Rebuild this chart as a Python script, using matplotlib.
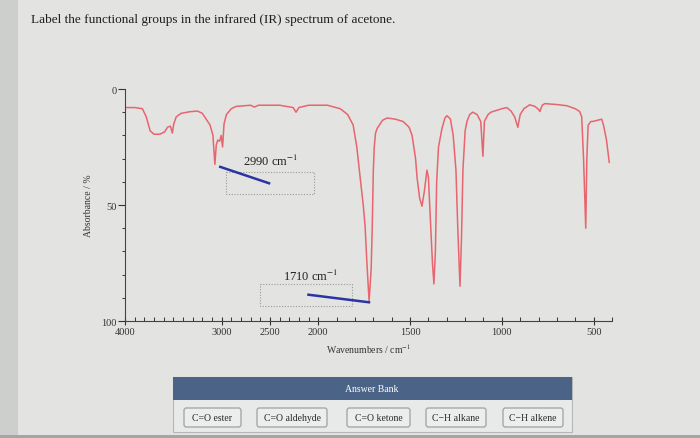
import numpy as np
import matplotlib
matplotlib.use("Agg")
import matplotlib.pyplot as plt
from matplotlib.patches import Rectangle, FancyBboxPatch

plt.rcParams["font.family"] = ["Liberation Serif", "DejaVu Serif"]
plt.rcParams["mathtext.fontset"] = "stix"

# IR spectrum of acetone (wavenumber cm-1, absorbance %)
wavenumber = [4000, 3900, 3820, 3780, 3740, 3700, 3640, 3590, 3560, 3530, 3510, 3495,
              3470, 3420, 3330, 3250, 3200, 3160, 3120, 3090, 3070, 3055, 3040, 3020,
              3005, 2990, 2975, 2950, 2900, 2850, 2700, 2660, 2620, 2400, 2260, 2230,
              2200, 2100, 1950, 1880, 1840, 1810, 1790, 1772, 1755, 1745, 1735, 1723,
              1712, 1706, 1700, 1695, 1688, 1679, 1650, 1625, 1580, 1538, 1505, 1489,
              1470, 1462, 1448, 1435, 1422, 1408, 1400, 1390, 1378, 1370, 1362, 1355,
              1345, 1326, 1310, 1299, 1280, 1265, 1250, 1240, 1228, 1220, 1212, 1200,
              1190, 1175, 1158, 1135, 1115, 1103, 1095, 1075, 1060, 1000, 973, 950,
              930, 913, 900, 880, 848, 820, 800, 793, 780, 766, 700, 647, 600, 576,
              565, 555, 543, 537, 530, 515, 505, 480, 456, 445, 430, 415]
absorbance = [8, 8, 8.5, 12, 18, 19.5, 19.5, 18.5, 16.5, 16, 19, 15,
              12, 10.5, 9.8, 9.5, 10.5, 13, 15.5, 20, 32.5, 24, 22, 22.5,
              20, 25, 15, 11, 8.5, 7.5, 7, 7.8, 7, 7, 8, 10,
              8, 7, 7, 8.5, 11, 15.5, 25, 38, 50, 59, 75, 91.5,
              78, 60, 35, 25, 19, 17, 13.5, 12.5, 13, 14, 16.5, 20,
              30, 38, 47, 50.5, 44, 35, 38, 55, 75, 84, 70, 40,
              25, 17, 12.5, 11.5, 13, 20, 35, 60, 85, 65, 35, 18,
              14, 11, 10, 11, 14, 29, 14, 11, 10, 8.5, 8, 9.5,
              12, 16.5, 11, 8.5, 6.8, 7.5, 8.8, 9.7, 7, 6.3, 6.7, 7.2, 8.5, 9.7,
              12, 30, 60, 30, 15.6, 14, 14, 13.5, 13, 16, 22, 31.6]

major_ticks = [4000, 3000, 2500, 2000, 1500, 1000, 500]
peak_labels = ["2990 cm$^{-1}$", "1710 cm$^{-1}$"]
answers = ["C=O ester", "C=O aldehyde", "C=O ketone", "C\u2212H alkane", "C\u2212H alkene"]

BG = "#e3e4e1"
RED = "#e8646e"
BLUE = "#2a34a3"


# axis is compressed above 2000 cm-1 (usual IR chart layout)
def fwd(w):
    w = np.asarray(w, dtype=float)
    return np.where(w >= 2000, w, 2000 - 1.9 * (2000 - w))


def inv(u):
    u = np.asarray(u, dtype=float)
    return np.where(u >= 2000, u, 2000 - (2000 - u) / 1.9)


fig = plt.figure(figsize=(7, 4.39), dpi=100)
fig.patch.set_facecolor(BG)

# background layer in pixel coords
bg = fig.add_axes([0, 0, 1, 1], zorder=0)
bg.set_xlim(0, 700)
bg.set_ylim(439, 0)
bg.axis("off")
bg.add_patch(Rectangle((0, 0), 18, 439, facecolor="#cdcfcc", edgecolor="none"))
bg.add_patch(Rectangle((0, 436), 700, 3, facecolor="#a4a6a4", edgecolor="none"))
bg.text(31, 20, "Label the functional groups in the infrared (IR) spectrum of acetone.",
        fontsize=9.5, color="#1e1e1e", va="center", ha="left")

# answer bank panel
bg.add_patch(Rectangle((173, 378), 399, 55, facecolor="#e8eae9", edgecolor="#b5b7b5", lw=0.8))
bg.add_patch(Rectangle((173, 378), 399, 23, facecolor="#4b6386", edgecolor="none"))
bg.text(372, 389.5, "Answer Bank", color="white", fontsize=7, ha="center", va="center")
btn_x = [184, 257, 347, 426, 503]
btn_w = [57, 70, 63, 60, 60]
for x0, w0, lab in zip(btn_x, btn_w, answers):
    bg.add_patch(FancyBboxPatch((x0, 409), w0, 19, boxstyle="round,pad=0,rounding_size=2.5",
                                facecolor="#eceeed", edgecolor="#a6a8a6", lw=1.0))
    bg.text(x0 + w0 / 2, 418.5, lab, fontsize=7, ha="center", va="center", color="#2a2a2a")

# spectrum axes
ax = fig.add_axes([125 / 700, 1 - 322 / 439, 487 / 700, 232 / 439], zorder=1)
ax.set_facecolor("none")
ax.set_xscale("function", functions=(fwd, inv))
ax.plot(wavenumber, absorbance, color=RED, lw=1.1)
ax.set_xlim(4000, 400)
ax.set_ylim(100, 0)

ax.set_xticks(major_ticks)
ax.set_xticks(np.arange(400, 4001, 100), minor=True)
ax.set_yticks([0, 50, 100])
ax.set_yticks(np.arange(0, 101, 10), minor=True)
ax.tick_params(axis="x", which="major", direction="inout", length=6, width=0.8,
               labelsize=7.5, colors="#333333", pad=1)
ax.tick_params(axis="x", which="minor", direction="in", length=3, width=0.7, colors="#333333")
ax.tick_params(axis="y", which="major", direction="out", length=5, width=0.8,
               labelsize=7.5, colors="#333333", pad=1)
ax.tick_params(axis="y", which="minor", direction="out", length=2.5, width=0.7, colors="#333333")
for s in ["top", "right"]:
    ax.spines[s].set_visible(False)
for s in ["left", "bottom"]:
    ax.spines[s].set_color("#444444")
    ax.spines[s].set_linewidth(0.8)

ax.set_xlabel("Wavenumbers / cm$^{-1}$", fontsize=7, color="#333333", labelpad=4)
ax.set_ylabel("Absorbance / %", fontsize=7, color="#333333", labelpad=6)

# label slots with pointer lines
ax.add_patch(Rectangle((2953, 35.9), 2041 - 2953, 9.2, fill=False, ls=(0, (1, 1.5)),
                       edgecolor="#9a9a9a", lw=0.8))
ax.add_patch(Rectangle((2601, 84), 1815 - 2601, 9.7, fill=False, ls=(0, (1, 1.5)),
                       edgecolor="#9a9a9a", lw=0.8))
ax.plot([3026, 2497], [33.4, 40.8], color=BLUE, lw=1.8, solid_capstyle="butt")
ax.plot([2114, 1717], [88.6, 92.0], color=BLUE, lw=1.8, solid_capstyle="butt")
ax.text(2497, 30.8, peak_labels[0], fontsize=9, ha="center", va="center", color="#222222")
ax.text(2083, 80.2, peak_labels[1], fontsize=9, ha="center", va="center", color="#222222")

fig.savefig("out.png", dpi=100, facecolor=BG)
